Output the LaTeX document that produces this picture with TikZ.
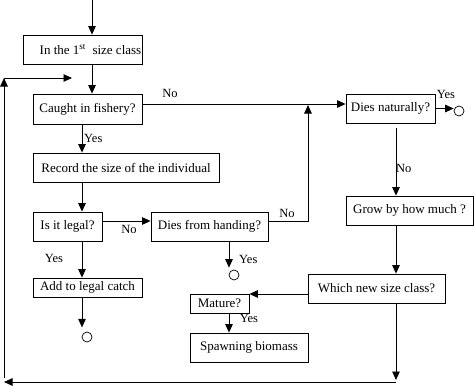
\documentclass[tikz,border=0pt]{standalone}
\usepackage{fontspec}
\setmainfont{Liberation Serif}
\usetikzlibrary{arrows.meta}
\begin{document}
\begin{tikzpicture}[x=1pt,y=-1pt,
  every node/.style={font=\fontsize{13}{15}\selectfont},
  box/.style={draw, line width=0.8pt, inner sep=0pt, rectangle},
  arr/.style={draw, line width=0.9pt, -{Triangle[length=8.5pt,width=7.5pt]}},
  endc/.style={draw, line width=0.7pt, circle, minimum size=10pt, inner sep=0pt},
  lab/.style={inner sep=0pt, font=\fontsize{12.5}{14}\selectfont}]
\useasboundingbox (0,0) rectangle (474,386);
% boxes
\node[box, minimum width=119pt, minimum height=29pt] (b1) at (82.5,49.5) {\makebox[0pt]{\hspace{16pt}In the 1\textsuperscript{st}\ \ size class}};
\node[box, minimum width=109pt, minimum height=30pt] (caught) at (87.5,109) {Caught in fishery?};
\node[box, minimum width=186pt, minimum height=29pt] (record) at (126,167.5) {Record the size of the individual};
\node[box, minimum width=69pt, minimum height=29pt] (legal) at (67.5,226.5) {Is it legal?};
\node[box, minimum width=117pt, minimum height=29pt] (handing) at (209.5,226.5) {Dies from handing?};
\node[box, minimum width=109pt, minimum height=19pt] (add) at (87.5,287.5) {Add to legal catch};
\node[box, minimum width=89pt, minimum height=29pt] (natural) at (390.5,108.5) {Dies naturally?};
\node[box, minimum width=127pt, minimum height=29pt] (grow) at (409.5,210.5) {Grow by how much ?};
\node[box, minimum width=137pt, minimum height=29pt] (which) at (376.5,288.5) {Which new size class?};
\node[box, minimum width=59pt, minimum height=19pt] (mature) at (219.5,303.5) {Mature?};
\node[box, minimum width=118pt, minimum height=29pt] (spawn) at (249,347.5) {Spawning biomass};
% end circles
\node[endc] (c1) at (459,111) {};
\node[endc] (c2) at (234,275) {};
\node[endc] (c3) at (87,337) {};
% helper coordinates
\coordinate (top) at (92,0);
\coordinate (xa) at (82,0);
\coordinate (yc) at (0,104);
\coordinate (yh) at (0,221);
\coordinate (xu) at (308,0);
\coordinate (xh) at (229,0);
\coordinate (xn) at (396,0);
\coordinate (ym) at (0,294);
\coordinate (bl) at (4,382);
\coordinate (tl) at (4,78);
\coordinate (le) at (72,78);
% connectors
\draw[arr] (top) -- (top |- b1.north);
\draw[arr] (b1.south -| top) -- (caught.north -| top);
\draw[arr] (caught.south -| xa) -- (record.north -| xa);
\draw[arr] (record.south -| xa) -- (legal.north -| xa);
\draw[arr] (legal.south -| xa) -- (add.north -| xa);
\draw[arr] (add.south -| xa) -- ++(0,30);
\draw[arr] (caught.east |- yc) -- (natural.west |- yc);
\draw[arr] (legal.east |- yh) -- (handing.west |- yh);
\draw[arr] (handing.east |- yh) -- (xu |- yh) -- ([yshift=-1pt]xu |- yc);
\draw[arr] (handing.south -| xh) -- ([yshift=2pt]c2.north -| xh);
\draw[arr] (natural.east) -- (c1.west |- natural.east);
\draw[arr] ([yshift=-5pt]natural.south -| xn) -- (grow.north -| xn);
\draw[arr] (grow.south -| xn) -- (which.north -| xn);
\draw[arr] (which.west |- ym) -- (mature.east |- ym);
\draw[arr] (mature.south -| xh) -- (spawn.north -| xh);
\draw[arr] (which.south -| xn) -- ([yshift=2pt]xn |- bl);
\draw[arr] (xn |- bl) -- (bl);
\draw[arr] ([yshift=4pt]bl) -- (tl);
\draw[arr] (tl) -- (le);
% labels
\node[lab] (lno1) at (170,93) {No};
\node[lab, anchor=west] (lyes1) at (84,138) {Yes};
\node[lab] (lno2) at (129,229) {No};
\node[lab] (lno3) at (287,213) {No};
\node[lab] (lyes2) at (54,258) {Yes};
\node[lab, anchor=west] (lyes3) at (239,259) {Yes};
\node[lab] (lyes4) at (446,94) {Yes};
\node[lab, anchor=west] (lno4) at (396,168) {No};
\node[lab] (lyes5) at (249,318) {Yes};
\end{tikzpicture}
\end{document}
